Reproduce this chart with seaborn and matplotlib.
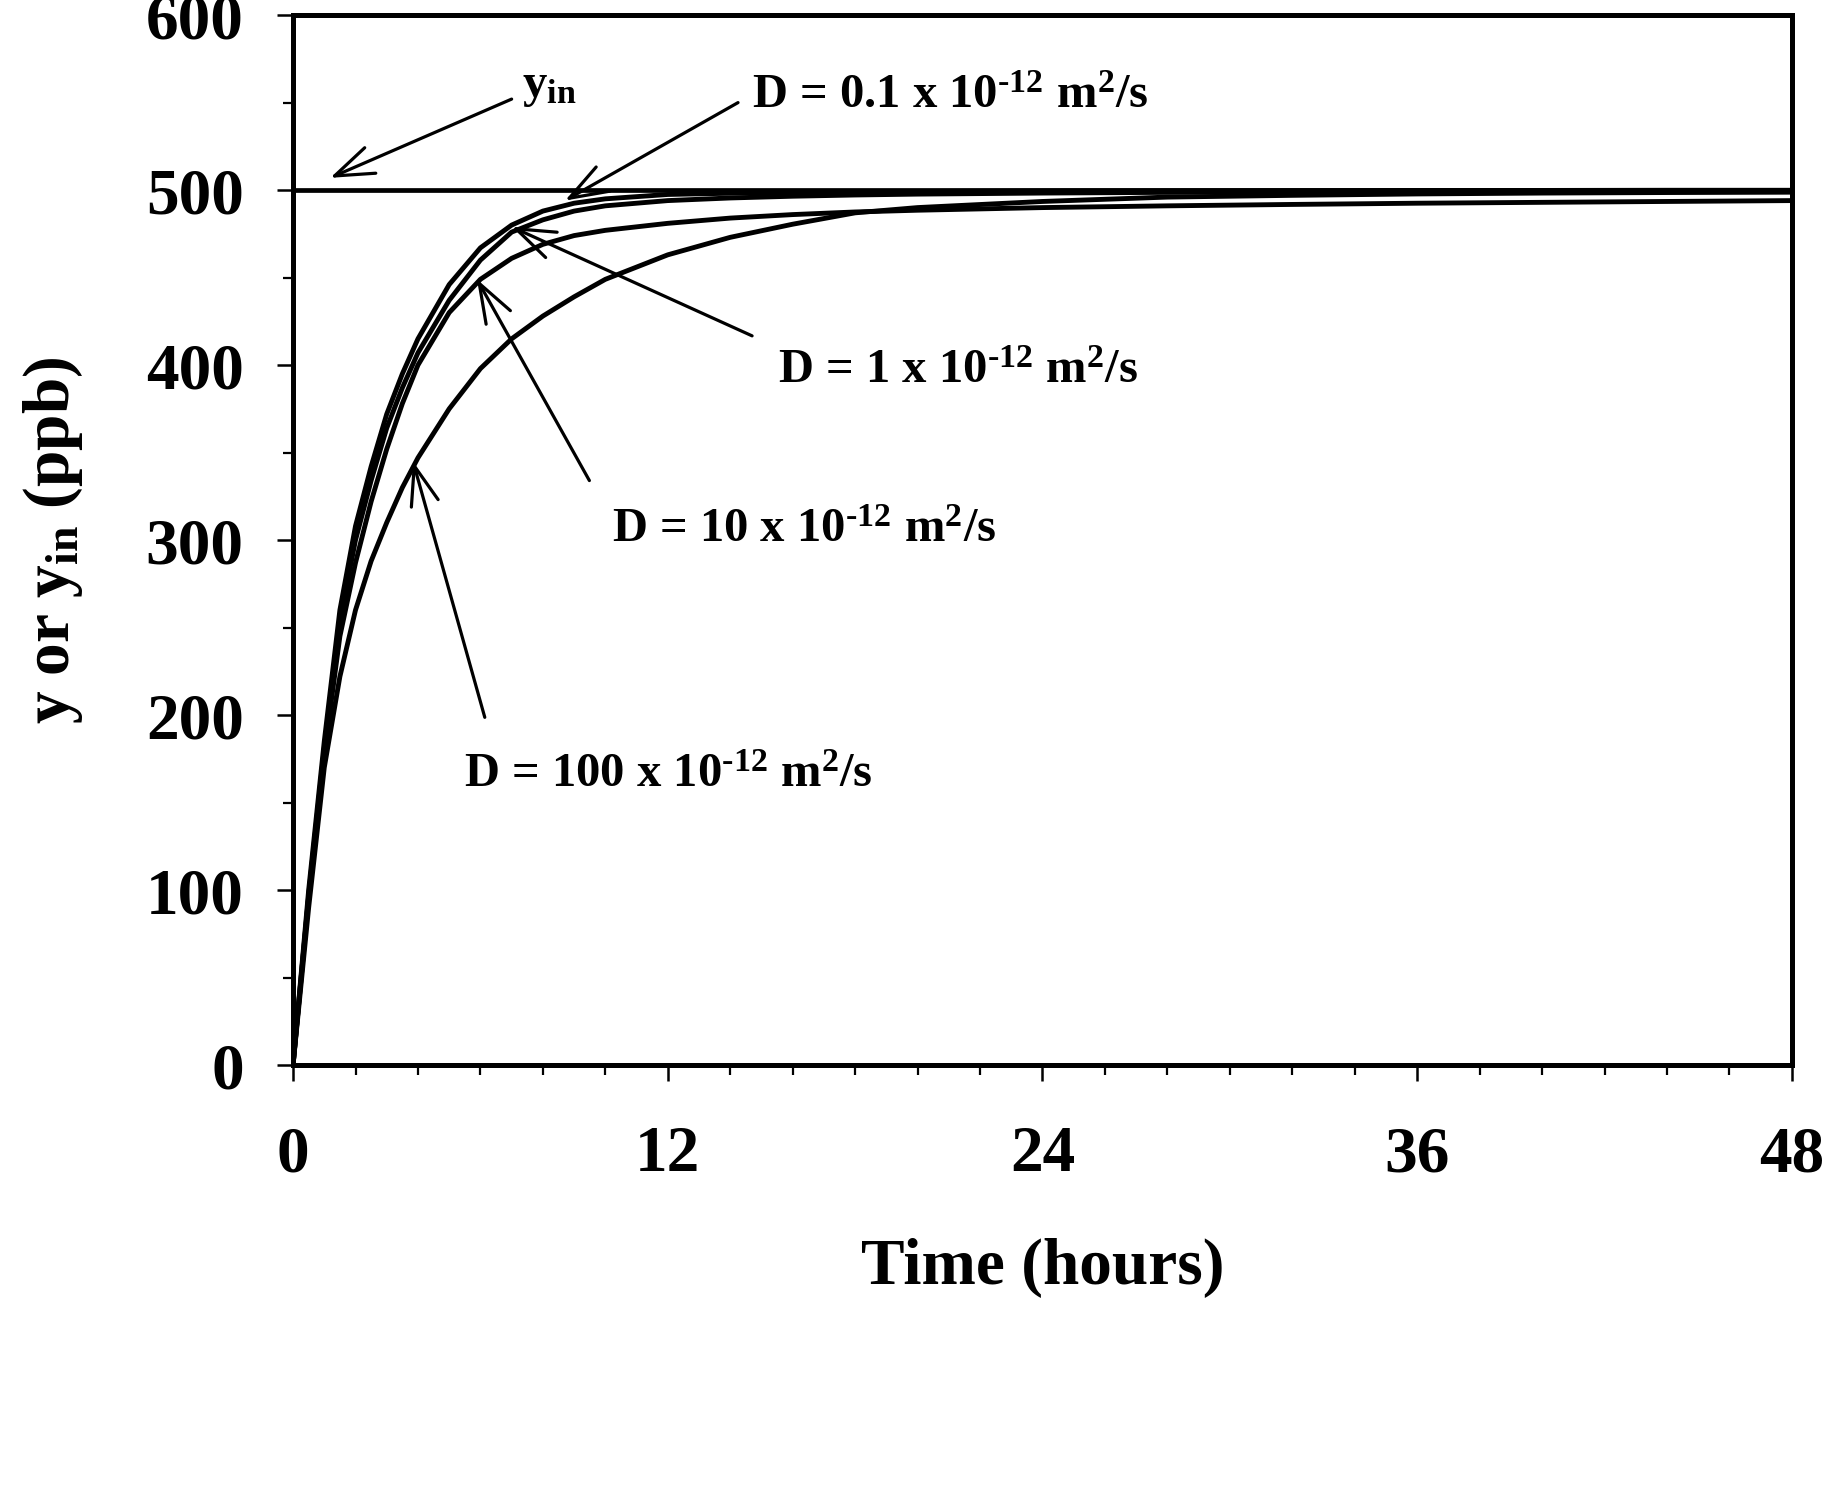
import matplotlib
matplotlib.use("Agg")
import matplotlib.pyplot as plt
import seaborn as sns
import pandas as pd
from matplotlib.ticker import MultipleLocator

# ---- data ----
time_h = [0, 0.5, 1, 1.5, 2, 2.5, 3, 3.5, 4, 5, 6, 7, 8, 9, 10, 12, 14, 16, 18, 20, 24, 28, 32, 36, 40, 44, 48]
y_D01 = [0, 100, 185, 260, 308, 342, 372, 395, 415, 446, 467, 480, 488, 492.5, 495, 497.5, 498.2, 498.6, 499, 499.2, 499.5, 499.6, 499.7, 499.8, 499.8, 499.9, 499.9]
y_D1 = [0, 97, 181, 254, 300, 334, 364, 387, 407, 437, 460, 476, 483, 488, 491, 494, 495.5, 496.5, 497.2, 497.7, 498.3, 498.7, 499, 499.2, 499.3, 499.4, 499.5]
y_D10 = [0, 96, 178, 245, 287, 322, 352, 378, 400, 430, 449, 461, 469, 474, 477, 481, 484, 486, 487.5, 488.5, 490, 491, 491.8, 492.5, 493, 493.5, 494]
y_D100 = [0, 90, 170, 222, 260, 288, 310, 330, 347, 375, 398, 415, 428, 439, 449, 463, 473, 480.5, 487, 490, 493.5, 496, 497, 497.8, 498.3, 498.6, 498.8]
y_in = 500
series_names = ["D = 0.1", "D = 1", "D = 10", "D = 100"]
series_values = [y_D01, y_D1, y_D10, y_D100]

x_ticks = [0, 12, 24, 36, 48]
y_ticks = [0, 100, 200, 300, 400, 500, 600]

# ---- style ----
sns.set_style("ticks")
plt.rcParams['font.family'] = ['Liberation Serif', 'DejaVu Serif']
plt.rcParams['font.weight'] = 'bold'
plt.rcParams['mathtext.fontset'] = 'custom'
plt.rcParams['mathtext.rm'] = 'Liberation Serif:bold'
plt.rcParams['mathtext.it'] = 'Liberation Serif:bold'
plt.rcParams['mathtext.bf'] = 'Liberation Serif:bold'
plt.rcParams['mathtext.default'] = 'rm'
for k in ['text.color', 'axes.labelcolor', 'xtick.color', 'ytick.color', 'axes.edgecolor']:
    plt.rcParams[k] = 'black'

df = pd.concat([pd.DataFrame({"time": time_h, "y": v, "series": n})
                for n, v in zip(series_names, series_values)], ignore_index=True)

fig = plt.figure(figsize=(18.27, 14.95), dpi=100)
ax = fig.add_axes([0.1604, 0.2876, 0.8204, 0.7023])

sns.lineplot(data=df, x="time", y="y", hue="series", palette=["black"] * 4,
             estimator=None, sort=False, lw=3.5, legend=False, ax=ax)
ax.axhline(y_in, color="black", lw=3.4)

ax.set_xlim(x_ticks[0], x_ticks[-1])
ax.set_ylim(y_ticks[0], y_ticks[-1])
ax.set_xticks(x_ticks)
ax.set_yticks(y_ticks)
ax.xaxis.set_minor_locator(MultipleLocator(2))
ax.yaxis.set_minor_locator(MultipleLocator(50))

for s in ax.spines.values():
    s.set_linewidth(3.6)
    s.set_color("black")

ax.tick_params(axis="both", which="major", direction="out", length=11.5, width=1.8,
               labelsize=47, color="black", labelcolor="black")
ax.tick_params(axis="both", which="minor", direction="out", length=7, width=1.6, color="black")
ax.tick_params(axis="x", which="major", pad=32)
ax.tick_params(axis="y", which="major", pad=24)

ax.set_xlabel("Time (hours)", fontsize=47, fontweight="bold", labelpad=38, color="black")
ax.set_ylabel(r"y or y$_{\mathrm{in}}$ (ppb)", fontsize=47, fontweight="bold", labelpad=44, color="black")

arrow_style = "->,head_length=1.4,head_width=0.5"
ann = [
    (r"y$_{\mathrm{in}}$", (7.33, 553), (7.0, 552), (1.19, 507)),
    (r"D = 0.1 x 10$^{\text{-12}}$ m$^{2}$/s", (14.7, 547), (14.25, 550), (8.71, 494)),
    (r"D = 1 x 10$^{\text{-12}}$ m$^{2}$/s", (15.52, 390), (14.7, 416.7), (7.0, 479)),
    (r"D = 10 x 10$^{\text{-12}}$ m$^{2}$/s", (10.23, 299), (9.49, 334), (5.89, 449)),
    (r"D = 100 x 10$^{\text{-12}}$ m$^{2}$/s", (5.47, 159), (6.14, 198.7), (3.84, 345)),
]
for txt, tpos, tail, tip in ann:
    ax.text(tpos[0], tpos[1], txt, fontsize=35, fontweight="bold", ha="left", va="baseline",
            color="black")
    ax.annotate("", xy=tip, xytext=tail,
                arrowprops=dict(arrowstyle=arrow_style, lw=2.3, color="black",
                                shrinkA=0, shrinkB=0, mutation_scale=20))

fig.savefig("out.png", dpi=100)
